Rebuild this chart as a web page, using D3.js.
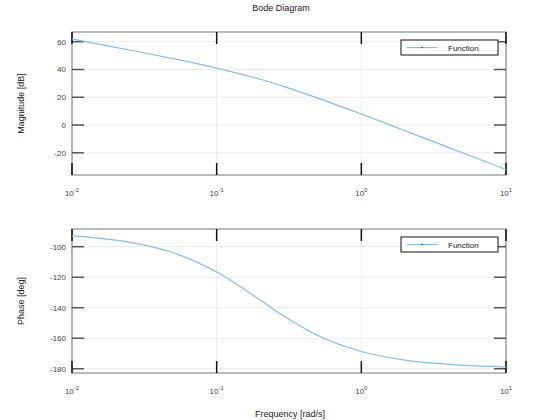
<!DOCTYPE html>
<html><head><meta charset="utf-8">
<script src="https://cdn.jsdelivr.net/npm/d3@7"></script>
<style>body{margin:0;background:#fff}text{font-family:"Liberation Sans",Arial,sans-serif}</style>
</head><body><svg id="c" width="560" height="420"></svg>
<script>
var freq = [0.01, 0.02, 0.03, 0.05, 0.1, 0.15, 0.2, 0.3, 0.5, 1, 2, 3, 5, 10];
var magnitude = [62.0, 55.9, 52.4, 47.8, 41.0, 36.5, 33.0, 27.3, 19.4, 7.9, -4.1, -11.1, -20.0, -32.0];
var phase = [-92.9, -95.7, -98.5, -104.0, -116.6, -126.9, -135.0, -146.3, -158.2, -168.7, -174.3, -176.2, -177.7, -178.9];
var magTicks = [-20, 0, 20, 40, 60];
var phaseTicks = [-180, -160, -140, -120, -100];
var decades = [-2, -1, 0, 1];

var svg = d3.select("#c");
svg.append("text").attr("x", 281).attr("y", 11).attr("text-anchor", "middle")
  .attr("font-size", 9).attr("fill", "#222").text("Bode Diagram");

var x = d3.scaleLog().domain([0.01, 10]).range([72, 506]);

function panel(values, ticks, domain, top, bottom, label) {
  var y = d3.scaleLinear().domain(domain).range([bottom, top]);
  var g = svg.append("g");
  // grid
  g.selectAll(".gy").data(ticks).enter().append("line")
    .attr("x1", 72).attr("x2", 506).attr("y1", y).attr("y2", y)
    .attr("stroke", "#ebebeb");
  g.selectAll(".gx").data(decades).enter().append("line")
    .attr("x1", function (d) { return x(Math.pow(10, d)); })
    .attr("x2", function (d) { return x(Math.pow(10, d)); })
    .attr("y1", top).attr("y2", bottom).attr("stroke", "#ebebeb");
  // frame
  g.append("rect").attr("x", 72).attr("y", top).attr("width", 434).attr("height", bottom - top)
    .attr("fill", "none").attr("stroke", "#777");
  // ticks
  ticks.forEach(function (t) {
    [[72, 84], [494, 506]].forEach(function (p) {
      g.append("line").attr("x1", p[0]).attr("x2", p[1]).attr("y1", y(t)).attr("y2", y(t))
        .attr("stroke", "#555").attr("stroke-width", 1.5);
    });
    g.append("text").attr("x", 66).attr("y", y(t) + 3).attr("text-anchor", "end")
      .attr("font-size", 8).attr("fill", "#444").text(t < 0 ? "-" + Math.abs(t) : t);
  });
  decades.forEach(function (d) {
    var xx = x(Math.pow(10, d));
    [[top, top + 12], [bottom - 12, bottom]].forEach(function (p) {
      g.append("line").attr("x1", xx).attr("x2", xx).attr("y1", p[0]).attr("y2", p[1])
        .attr("stroke", "#111").attr("stroke-width", 1.5);
    });
    var t = g.append("text").attr("x", xx).attr("y", bottom + 21).attr("text-anchor", "middle")
      .attr("font-size", 8).attr("fill", "#444");
    t.append("tspan").text("10");
    t.append("tspan").attr("dy", -4).attr("font-size", 6).text(d);
  });
  // curve
  var line = d3.line().x(function (d, i) { return x(freq[i]); }).y(function (d) { return y(d); })
    .curve(d3.curveMonotoneX);
  g.append("path").datum(values).attr("d", line).attr("fill", "none")
    .attr("stroke", "#86bde6").attr("stroke-width", 1.2);
  // y label
  var cy = (top + bottom) / 2;
  g.append("text").attr("transform", "translate(24," + cy + ") rotate(-90)")
    .attr("text-anchor", "middle").attr("font-size", 9).attr("fill", "#222").text(label);
  // legend
  var ly = top + 8;
  g.append("rect").attr("x", 401).attr("y", ly).attr("width", 97).attr("height", 15)
    .attr("fill", "#fff").attr("stroke", "#111");
  g.append("line").attr("x1", 407).attr("x2", 438).attr("y1", ly + 7.5).attr("y2", ly + 7.5)
    .attr("stroke", "#86bde6").attr("stroke-width", 1.2);
  g.append("circle").attr("cx", 422).attr("cy", ly + 7.5).attr("r", 0.8).attr("fill", "#333");
  g.append("text").attr("x", 448).attr("y", ly + 10.5).attr("font-size", 8).attr("fill", "#222").text("Function");
}

panel(magnitude, magTicks, [-36, 67], 32, 175, "Magnitude [dB]");
panel(phase, phaseTicks, [-182.8, -88.4], 229, 373, "Phase [deg]");

svg.append("text").attr("x", 290).attr("y", 417).attr("text-anchor", "middle")
  .attr("font-size", 9).attr("fill", "#222").text("Frequency [rad/s]");
</script></body></html>
